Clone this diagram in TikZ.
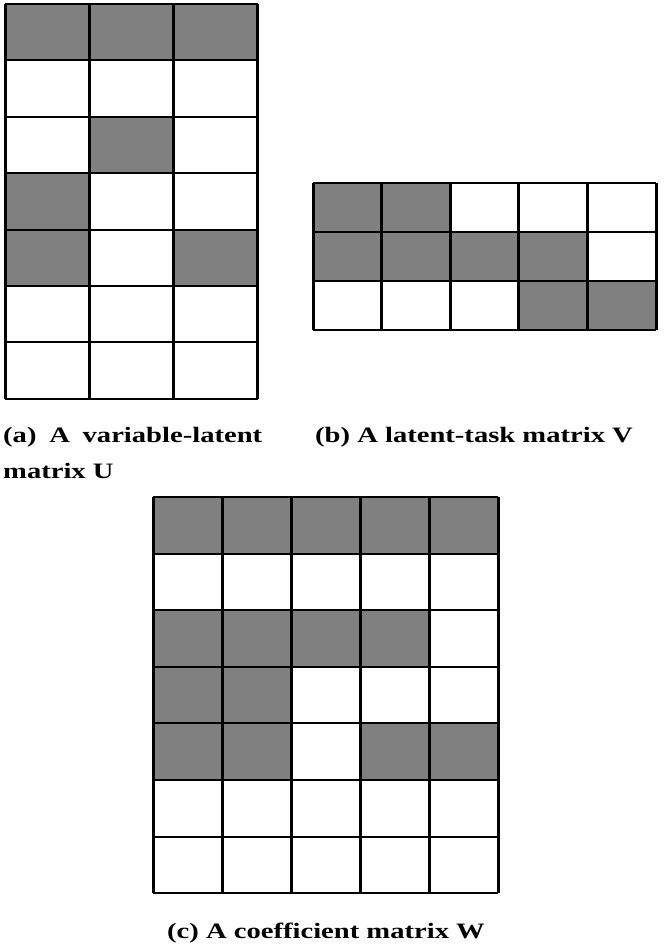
\documentclass[tikz,border=0pt]{standalone}
\usepackage{fontspec}
\setmainfont{Liberation Serif}[FakeStretch=1.3]
\definecolor{cellgray}{RGB}{128,128,128}

\begin{document}
\begin{tikzpicture}[x=1pt, y=-1pt,
    vline/.style={line width=3pt},
    hline/.style={line width=2pt},
    cell/.style={fill=cellgray},
    caption/.style={inner sep=0pt, anchor=base west,
        font=\fontsize{22}{36}\selectfont\bfseries}]

    \useasboundingbox (0,0) rectangle (665,947);

    % (a) variable-latent matrix U
    \begin{scope}[shift={(5,4)}, x=84.3pt, y=-56.4pt]
        \foreach \r/\c in {0/0,0/1,0/2,2/1,3/0,4/0,4/2}
            \fill[cell] (\c,\r) rectangle ++(1,1);
        \foreach \i in {0,...,3} \draw[vline] (\i,0) -- (\i,7);
        \foreach \j in {0,...,7} \draw[hline] (0,\j) -- (3,\j);
    \end{scope}

    % (b) latent-task matrix V
    \begin{scope}[shift={(313,183)}, x=68.6pt, y=-49pt]
        \foreach \r/\c in {0/0,0/1,1/0,1/1,1/2,1/3,2/3,2/4}
            \fill[cell] (\c,\r) rectangle ++(1,1);
        \foreach \i in {0,...,5} \draw[vline] (\i,0) -- (\i,3);
        \foreach \j in {0,...,3} \draw[hline] (0,\j) -- (5,\j);
    \end{scope}

    % (c) coefficient matrix W
    \begin{scope}[shift={(153,497)}, x=69pt, y=-56.6pt]
        \foreach \r/\c in {0/0,0/1,0/2,0/3,0/4,2/0,2/1,2/2,2/3,3/0,3/1,4/0,4/1,4/3,4/4}
            \fill[cell] (\c,\r) rectangle ++(1,1);
        \foreach \i in {0,...,5} \draw[vline] (\i,0) -- (\i,7);
        \foreach \j in {0,...,7} \draw[hline] (0,\j) -- (5,\j);
    \end{scope}

    \node[caption, text width=259pt, align=justify] (capU) at (3,442)
        {(a) A variable-latent matrix U};
    \node[caption] (capV) at (315,442) {(b) A latent-task matrix V};
    \node[caption] (capW) at (167,938) {(c) A coefficient matrix W};
\end{tikzpicture}
\end{document}
